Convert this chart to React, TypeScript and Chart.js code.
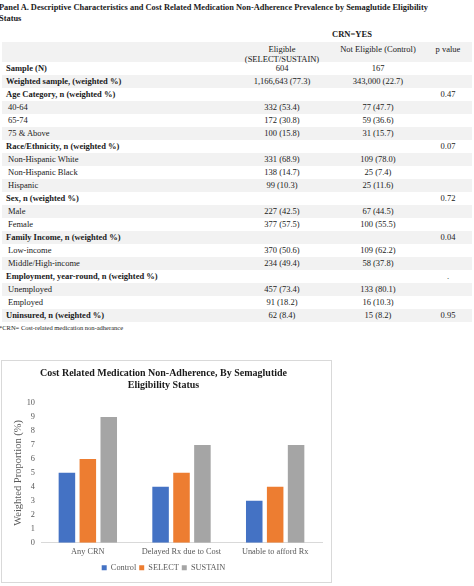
import { useEffect, useRef } from "react";
import { Chart, registerables } from "chart.js";

Chart.register(...registerables);

const FONT = "'Liberation Serif', 'Times New Roman', serif";

// chart data
const categories = ["Any CRN", "Delayed Rx due to Cost", "Unable to afford Rx"];
const controlValues = [5, 4, 3];
const selectValues = [6, 5, 4];
const sustainValues = [9, 7, 7];
const yTicks = [0, 1, 2, 3, 4, 5, 6, 7, 8, 9, 10];

// table data
const rowLabels = [
  "Sample (N)",
  "Weighted sample, (weighted %)",
  "Age Category, n (weighted %)",
  "40-64",
  "65-74",
  "75 & Above",
  "Race/Ethnicity, n (weighted %)",
  "Non-Hispanic White",
  "Non-Hispanic Black",
  "Hispanic",
  "Sex, n (weighted %)",
  "Male",
  "Female",
  "Family Income, n (weighted %)",
  "Low-income",
  "Middle/High-income",
  "Employment, year-round, n (weighted %)",
  "Unemployed",
  "Employed",
  "Uninsured, n (weighted %)"
];
const eligibleCol = [
  "604", "1,166,643 (77.3)", "", "332 (53.4)", "172 (30.8)", "100 (15.8)", "",
  "331 (68.9)", "138 (14.7)", "99 (10.3)", "", "227 (42.5)", "377 (57.5)", "",
  "370 (50.6)", "234 (49.4)", "", "457 (73.4)", "91 (18.2)", "62 (8.4)"
];
const notEligibleCol = [
  "167", "343,000 (22.7)", "", "77 (47.7)", "59 (36.6)", "31 (15.7)", "",
  "109 (78.0)", "25 (7.4)", "25 (11.6)", "", "67 (44.5)", "100 (55.5)", "",
  "109 (62.2)", "58 (37.8)", "", "133 (80.1)", "16 (10.3)", "15 (8.2)"
];
const pValues = [
  "", "", "0.47", "", "", "", "0.07", "", "", "", "0.72", "", "", "0.04",
  "", "", ".", "", "", "0.95"
];
const boldRows = [0, 1, 2, 6, 10, 13, 16, 19];

function BarChart() {
  const canvasRef = useRef<HTMLCanvasElement>(null);

  useEffect(() => {
    if (!canvasRef.current) return;
    const chart = new Chart(canvasRef.current, {
      type: "bar",
      data: {
        labels: categories,
        datasets: [
          { label: "Control", data: controlValues, backgroundColor: "#4472c4" },
          { label: "SELECT", data: selectValues, backgroundColor: "#ed7d31" },
          { label: "SUSTAIN", data: sustainValues, backgroundColor: "#a5a5a5" }
        ]
      },
      options: {
        animation: false,
        responsive: true,
        maintainAspectRatio: false,
        datasets: { bar: { categoryPercentage: 0.67, barPercentage: 0.79 } },
        layout: { padding: { left: 3, right: 9, top: 7, bottom: 0 } },
        plugins: {
          title: {
            display: true,
            text: ["Cost Related Medication Non-Adherence, By Semaglutide", "Eligibility Status"],
            font: { family: FONT, size: 10, weight: "bold", lineHeight: 1.15 },
            color: "#1a1a1a",
            padding: { top: 0, bottom: 12 }
          },
          legend: {
            position: "bottom",
            labels: {
              boxWidth: 5,
              boxHeight: 5,
              padding: 3,
              color: "#595959",
              font: { family: FONT, size: 8.3 }
            }
          },
          tooltip: { enabled: false }
        },
        scales: {
          x: {
            grid: { display: false, drawTicks: false },
            border: { color: "#d9d9d9" },
            ticks: { color: "#595959", font: { family: FONT, size: 8.3 }, padding: 4 }
          },
          y: {
            min: 0,
            max: 10,
            afterBuildTicks: (axis) => {
              axis.ticks = yTicks.map((v) => ({ value: v }));
            },
            afterFit: (axis) => {
              axis.width = 36;
            },
            grid: { display: false, drawTicks: false },
            border: { display: false },
            ticks: { autoSkip: false, color: "#595959", font: { family: FONT, size: 8.3 }, padding: 6 },
            title: {
              display: true,
              text: "Weighted Proportion (%)",
              color: "#595959",
              font: { family: FONT, size: 10.5 },
              padding: { top: 7, bottom: 2 }
            }
          }
        }
      }
    });
    return () => chart.destroy();
  }, []);

  return <canvas ref={canvasRef} />;
}

export default function App() {
  const textBase = {
    position: "absolute" as const,
    fontFamily: FONT,
    fontSize: 8.5,
    color: "#1a1a1a",
    lineHeight: "13px",
    whiteSpace: "nowrap" as const
  };

  return (
    <div style={{ position: "absolute", left: 0, top: 0, width: 474, height: 586, background: "#fff", overflow: "hidden" }}>
      <div style={{ ...textBase, left: -1, top: 2, fontWeight: "bold", fontSize: 8.4, lineHeight: "11px" }}>
        Panel A. Descriptive Characteristics and Cost Related Medication Non-Adherence Prevalence by Semaglutide Eligibility
        <br />
        Status
      </div>

      <div style={{ ...textBase, left: 312, width: 80, textAlign: "center", top: 28, fontWeight: "bold" }}>CRN=YES</div>

      {/* header band */}
      <div style={{ position: "absolute", left: 2, top: 42, width: 470, height: 20, background: "#f2f2f2" }} />
      <div style={{ ...textBase, left: 232, width: 100, top: 44, lineHeight: "10px", textAlign: "center" }}>
        Eligible
        <br />
        (SELECT/SUSTAIN)
      </div>
      <div style={{ ...textBase, left: 328, width: 100, top: 44, lineHeight: "10px", textAlign: "center" }}>
        Not Eligible (Control)
      </div>
      <div style={{ ...textBase, left: 428, width: 40, top: 44, lineHeight: "10px", textAlign: "center" }}>p value</div>

      {rowLabels.map((label, i) => {
        const top = 62 + i * 13;
        const bold = boldRows.includes(i);
        return (
          <div key={label}>
            {i % 2 === 1 && (
              <div style={{ position: "absolute", left: 2, top, width: 470, height: 13, background: "#f2f2f2" }} />
            )}
            <div style={{ ...textBase, top, left: bold ? 6 : 8, fontWeight: bold ? "bold" : "normal" }}>{label}</div>
            <div style={{ ...textBase, top, left: 232, width: 100, textAlign: "center" }}>{eligibleCol[i]}</div>
            <div style={{ ...textBase, top, left: 328, width: 100, textAlign: "center" }}>{notEligibleCol[i]}</div>
            <div style={{ ...textBase, top, left: 428, width: 40, textAlign: "center" }}>{pValues[i]}</div>
          </div>
        );
      })}

      <div style={{ ...textBase, left: -1, top: 324, fontSize: 6.5, lineHeight: "8px" }}>
        *CRN= Cost-related medication non-adherance
      </div>

      <div
        style={{
          position: "absolute",
          left: 1,
          top: 360,
          width: 329,
          height: 221,
          border: "1px solid #d9d9d9",
          background: "#fff"
        }}
      >
        <BarChart />
      </div>
    </div>
  );
}
